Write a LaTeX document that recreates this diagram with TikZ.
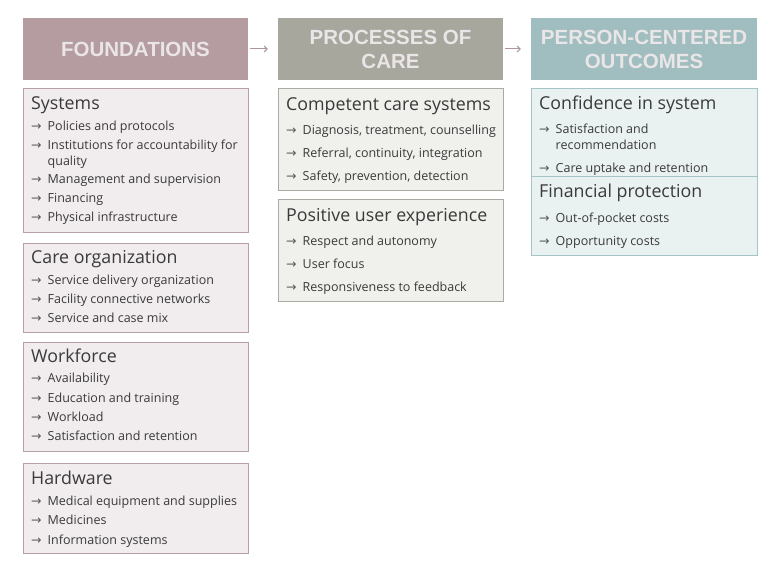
\documentclass[tikz,border=0pt]{standalone}
\usepackage{fontspec}
\setmainfont{Open Sans}
\newfontfamily\hdrfont{Liberation Sans}
\newfontfamily\arrowfont{DejaVu Sans}
\usetikzlibrary{positioning,arrows.meta}

\definecolor{fndhead}{HTML}{B49CA1}
\definecolor{fndback}{HTML}{F1ECED}
\definecolor{fndline}{HTML}{B7A0A6}
\definecolor{prchead}{HTML}{A7A79E}
\definecolor{prcback}{HTML}{F0F0ED}
\definecolor{prcline}{HTML}{ABABA3}
\definecolor{outhead}{HTML}{A0BEBF}
\definecolor{outback}{HTML}{EAF1F1}
\definecolor{outline}{HTML}{A5C4C5}
\definecolor{hdrtext}{HTML}{EAE5E7}
\definecolor{bodytext}{HTML}{3A3A3A}
\definecolor{arrowgray}{HTML}{5A5A5A}
\definecolor{connline}{HTML}{AD979D}

\newcommand{\itemarrow}{\makebox[16.5pt][l]{\color{arrowgray}\arrowfont\fontsize{12.5}{12}\selectfont →}}

\begin{document}
\begin{tikzpicture}[x=1pt,y=-1pt,
  hdr/.style={minimum width=225pt,minimum height=62pt,inner sep=0pt,align=center,
    text=hdrtext,font=\hdrfont\bfseries\fontsize{20.5}{24}\selectfont},
  box/.style={line width=0.9pt,minimum width=225pt,anchor=north west,inner sep=0pt},
  ttl/.style={anchor=base west,inner sep=0pt,yshift=-1pt,text=bodytext,font=\fontsize{17.8}{20}\selectfont},
  itm/.style={anchor=base west,inner sep=0pt,yshift=-1pt,align=left,text=bodytext,
    font=\fontsize{12.5}{16}\selectfont},
  conn/.style={draw=connline,line width=1pt,-{Straight Barb[length=3pt,width=6pt]},
    shorten <=2pt,shorten >=10pt}]
\useasboundingbox[fill=white] (0,0) rectangle (780,569);

% column heads
\node[hdr,fill=fndhead] (fnd) at (135.5,49) {FOUNDATIONS};
\node[hdr,fill=prchead] (prc) at (390.5,49) {PROCESSES OF\\CARE};
\node[hdr,fill=outhead,minimum width=226pt] (out) at (644,49) {PERSON-CENTERED\\OUTCOMES};
\draw[conn] (fnd) -- (prc);
\draw[conn] (prc) -- (out);

% foundations
\node[box,draw=fndline,fill=fndback,minimum height=144pt] (sys) at (23,88) {};
\node[box,draw=fndline,fill=fndback,minimum height=89pt] (org) at (23,243) {};
\node[box,draw=fndline,fill=fndback,minimum height=109pt] (wrk) at (23,342) {};
\node[box,draw=fndline,fill=fndback,minimum height=90pt] (hwd) at (23,463) {};
\node[ttl] (sysh) at (31,109) {Systems};
\foreach \y/\t[count=\i] in {
  130/Policies and protocols,
  165/{Institutions for accountability for\\\hspace*{16.5pt}quality},
  183/Management and supervision,
  202/Financing,
  221/Physical infrastructure}
\node[itm] (sys\i) at (31,\y) {\itemarrow\t};
\node[ttl] (orgh) at (31,263) {Care organization};
\foreach \y/\t[count=\i] in {
  284/Service delivery organization,
  303/Facility connective networks,
  322/Service and case mix}
\node[itm] (org\i) at (31,\y) {\itemarrow\t};
\node[ttl] (wrkh) at (31,362) {Workforce};
\foreach \y/\t[count=\i] in {
  382/Availability,
  402/Education and training,
  421/Workload,
  440/Satisfaction and retention}
\node[itm] (wrk\i) at (31,\y) {\itemarrow\t};
\node[ttl] (hwdh) at (31,484) {Hardware};
\foreach \y/\t[count=\i] in {
  504/Medical equipment and supplies,
  524/Medicines,
  543/Information systems}
\node[itm] (hwd\i) at (31,\y) {\itemarrow\t};

% processes of care
\node[box,draw=prcline,fill=prcback,minimum height=102pt] (cmp) at (278,88) {};
\node[box,draw=prcline,fill=prcback,minimum height=102pt] (usr) at (278,199) {};
\node[ttl] (cmph) at (286,110) {Competent care systems};
\foreach \y/\t[count=\i] in {
  134/{Diagnosis, treatment, counselling},
  157/{Referral, continuity, integration},
  180/{Safety, prevention, detection}}
\node[itm] (cmp\i) at (286,\y) {\itemarrow\t};
\node[ttl] (usrh) at (286,221) {Positive user experience};
\foreach \y/\t[count=\i] in {
  245/Respect and autonomy,
  268/User focus,
  291/Responsiveness to feedback}
\node[itm] (usr\i) at (286,\y) {\itemarrow\t};

% person-centered outcomes
\node[box,draw=outline,fill=outback,minimum width=226pt,minimum height=88pt] (cnf) at (531,88) {};
\node[box,draw=outline,fill=outback,minimum width=226pt,minimum height=79pt] (fin) at (531,176) {};
\node[ttl] (cnfh) at (539,109) {Confidence in system};
\foreach \y/\t[count=\i] in {
  149/{Satisfaction and\\\hspace*{16.5pt}recommendation},
  172/Care uptake and retention}
\node[itm] (cnf\i) at (539,\y) {\itemarrow\t};
\node[ttl] (finh) at (539,197) {Financial protection};
\foreach \y/\t[count=\i] in {
  222/Out-of-pocket costs,
  245/Opportunity costs}
\node[itm] (fin\i) at (539,\y) {\itemarrow\t};
\end{tikzpicture}
\end{document}
